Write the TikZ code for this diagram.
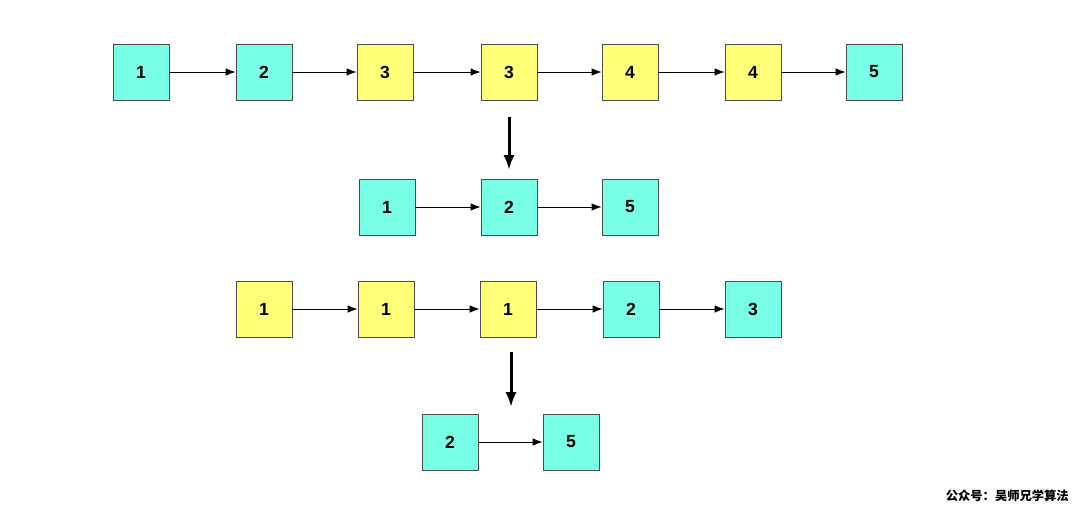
\documentclass[tikz,border=0pt]{standalone}
\usepackage{fontspec}
\newfontfamily\cjk{Noto Sans CJK SC}
\newfontfamily\boxfont{Liberation Sans}
\usetikzlibrary{arrows.meta}
\usetikzlibrary{positioning}
\tikzset{>=latex}
\definecolor{listcyan}{RGB}{120,255,230}
\definecolor{listyellow}{RGB}{255,255,120}
\tikzstyle{cyanbox}=[draw=black!70,fill=listcyan,minimum size=1.12cm,inner sep=0pt,font=\boxfont\bfseries]
\tikzstyle{yellowbox}=[draw=black!70,fill=listyellow,minimum size=1.12cm,inner sep=0pt,font=\boxfont\bfseries]
\tikzstyle{linkline}=[draw=black,line width=0.2mm,-{Latex[length=2mm]}]
\tikzstyle{bigline}=[draw=black,line width=0.6mm,-{Latex[length=3mm]}]

\begin{document}
\begin{tikzpicture}[x=0.02cm,y=-0.02cm]
  \useasboundingbox (0,0) rectangle (1080,512);
  % first list
  \node[cyanbox] (a1) at (141,72) {1};
  \node[cyanbox] (a2) at (264,72) {2};
  \node[yellowbox] (a3) at (385,72) {3};
  \node[yellowbox] (a4) at (509,72) {3};
  \node[yellowbox] (a5) at (630,72) {4};
  \node[yellowbox] (a6) at (753,72) {4};
  \node[cyanbox] (a7) at (874,72) {5};
  \foreach \i/\j in {1/2,2/3,3/4,4/5,5/6,6/7}
    \draw[linkline] (a\i) -- (a\j);
  % first result
  \coordinate (s1) at (509,117);
  \coordinate (e1) at (509,170);
  \draw[bigline] (s1) -- (e1);
  \node[cyanbox] (b1) at (387,207) {1};
  \node[cyanbox] (b2) at (509,207) {2};
  \node[cyanbox] (b3) at (630,207) {5};
  \draw[linkline] (b1) -- (b2);
  \draw[linkline] (b2) -- (b3);
  % second list
  \node[yellowbox] (c1) at (264,309) {1};
  \node[yellowbox] (c2) at (386,309) {1};
  \node[yellowbox] (c3) at (508,309) {1};
  \node[cyanbox] (c4) at (631,309) {2};
  \node[cyanbox] (c5) at (753,309) {3};
  \foreach \i/\j in {1/2,2/3,3/4,4/5}
    \draw[linkline] (c\i) -- (c\j);
  % second result
  \coordinate (s2) at (511,352);
  \coordinate (e2) at (511,407);
  \draw[bigline] (s2) -- (e2);
  \node[cyanbox] (d1) at (450,442) {2};
  \node[cyanbox] (d2) at (571,442) {5};
  \draw[linkline] (d1) -- (d2);

  \node[anchor=east,font=\cjk\scriptsize\bfseries] (mark) at (1075,496) {公众号：吴师兄学算法};
\end{tikzpicture}
\end{document}
